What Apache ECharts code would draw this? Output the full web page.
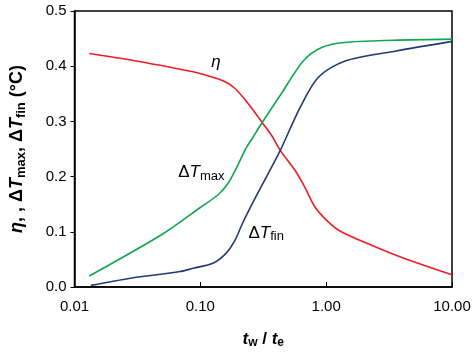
<!DOCTYPE html>
<html>
<head>
<meta charset="utf-8">
<script src="https://cdn.jsdelivr.net/npm/echarts@6/dist/echarts.min.js"></script>
<style>
  html, body { margin: 0; padding: 0; background: #fff; }
  #chart { width: 474px; height: 354px; }
</style>
</head>
<body>
<div id="chart"></div>
<script>
// eta
var etaX = [0.0131, 0.03, 0.0877, 0.126, 0.16, 0.186, 0.216, 0.26, 0.31, 0.37, 0.433, 0.567, 0.68, 0.815, 1.04, 1.32, 2.27, 4.15, 10];
var etaY = [0.423, 0.410, 0.390, 0.380, 0.371, 0.361, 0.345, 0.322, 0.298, 0.274, 0.247, 0.211, 0.180, 0.145, 0.118, 0.100, 0.076, 0.052, 0.022];
// delta T max
var maxX = [0.0131, 0.051, 0.1, 0.14, 0.165, 0.192, 0.229, 0.26, 0.31, 0.445, 0.66, 0.92, 1.39, 3.44, 10];
var maxY = [0.020, 0.097, 0.144, 0.168, 0.187, 0.214, 0.25, 0.27, 0.298, 0.352, 0.41, 0.434, 0.443, 0.447, 0.449];
// delta T fin
var finX = [0.0135, 0.0279, 0.069, 0.0877, 0.126, 0.16, 0.186, 0.216, 0.26, 0.31, 0.37, 0.433, 0.62, 0.867, 1.4, 3.5, 10];
var finY = [0.003, 0.016, 0.028, 0.034, 0.043, 0.061, 0.082, 0.115, 0.152, 0.185, 0.218, 0.248, 0.325, 0.380, 0.409, 0.427, 0.445];

// in-plot labels: [x, y] in data units
var etaTag = [0.133, 0.408];
var maxTag = [0.102, 0.207];
var finTag = [0.334, 0.098];

function pairs(xs, ys) {
    return xs.map(function (x, i) { return [x, ys[i]]; });
}

var font = 'Liberation Sans, Arial, sans-serif';
var chart = echarts.init(document.getElementById('chart'));

function tag(txt, coord) {
    return {
        symbol: 'circle',
        symbolSize: 1,
        itemStyle: { color: 'rgba(0,0,0,0)' },
        data: [{ coord: coord }],
        label: {
            show: true,
            position: 'inside',
            formatter: txt,
            color: '#000',
            fontFamily: font,
            fontSize: 17,
            rich: {
                i: { fontStyle: 'italic', fontSize: 17, fontFamily: font, color: '#000' },
                s: { fontSize: 13, fontFamily: font, color: '#000', padding: [8, 0, 0, 0] }
            }
        }
    };
}

function line(data, color, mark) {
    return {
        type: 'line',
        data: data,
        smooth: 0.3,
        showSymbol: false,
        lineStyle: { color: color, width: 1.6 },
        markPoint: mark
    };
}

chart.setOption({
    animation: false,
    grid: {
        left: 70, right: 22, top: 11, bottom: 65,
        show: true, borderColor: '#000', borderWidth: 1.5
    },
    xAxis: {
        type: 'log',
        logBase: 10,
        min: 0.01,
        max: 10,
        axisLine: { lineStyle: { color: '#000', width: 1.5 } },
        axisTick: { inside: true, length: 5, lineStyle: { color: '#000' } },
        minorTick: { show: false },
        splitLine: { show: false },
        axisLabel: {
            color: '#000', fontFamily: font, fontSize: 15, margin: 12,
            formatter: function (v) { return v.toFixed(2); }
        },
        name: '{b|t}{bs|w}{n| / }{b|t}{bs|e}',
        nameLocation: 'middle',
        nameGap: 42,
        nameTextStyle: {
            rich: {
                b: { fontStyle: 'italic', fontWeight: 'bold', fontSize: 17, fontFamily: font, color: '#000' },
                bs: { fontWeight: 'bold', fontSize: 12, fontFamily: font, color: '#000', padding: [8, 0, 0, 0] },
                n: { fontWeight: 'bold', fontSize: 17, fontFamily: font, color: '#000' }
            }
        }
    },
    yAxis: {
        type: 'value',
        min: 0,
        max: 0.5,
        interval: 0.1,
        axisLine: { show: true, lineStyle: { color: '#000', width: 1.5 } },
        axisTick: { show: true, inside: false, length: 4, lineStyle: { color: '#000' } },
        splitLine: { show: false },
        axisLabel: {
            color: '#000', fontFamily: font, fontSize: 15, margin: 8,
            formatter: function (v) { return v.toFixed(1); }
        },
        name: '{b|η}{n|, , Δ}{b|T}{bs|max}{n|, Δ}{b|T}{bs|fin}{n| (°C)}',
        nameLocation: 'middle',
        nameRotate: 90,
        nameGap: 47,
        nameTextStyle: {
            rich: {
                b: { fontStyle: 'italic', fontWeight: 'bold', fontSize: 18, fontFamily: font, color: '#000' },
                bs: { fontWeight: 'bold', fontSize: 13, fontFamily: font, color: '#000', padding: [8, 0, 0, 0] },
                n: { fontWeight: 'bold', fontSize: 18, fontFamily: font, color: '#000' }
            }
        }
    },
    series: [
        line(pairs(etaX, etaY), '#ee1c25', tag('{i|η}', etaTag)),
        line(pairs(maxX, maxY), '#12a551', tag('Δ{i|T}{s|max}', maxTag)),
        line(pairs(finX, finY), '#1f3b73', tag('Δ{i|T}{s|fin}', finTag))
    ]
});
</script>
</body>
</html>
